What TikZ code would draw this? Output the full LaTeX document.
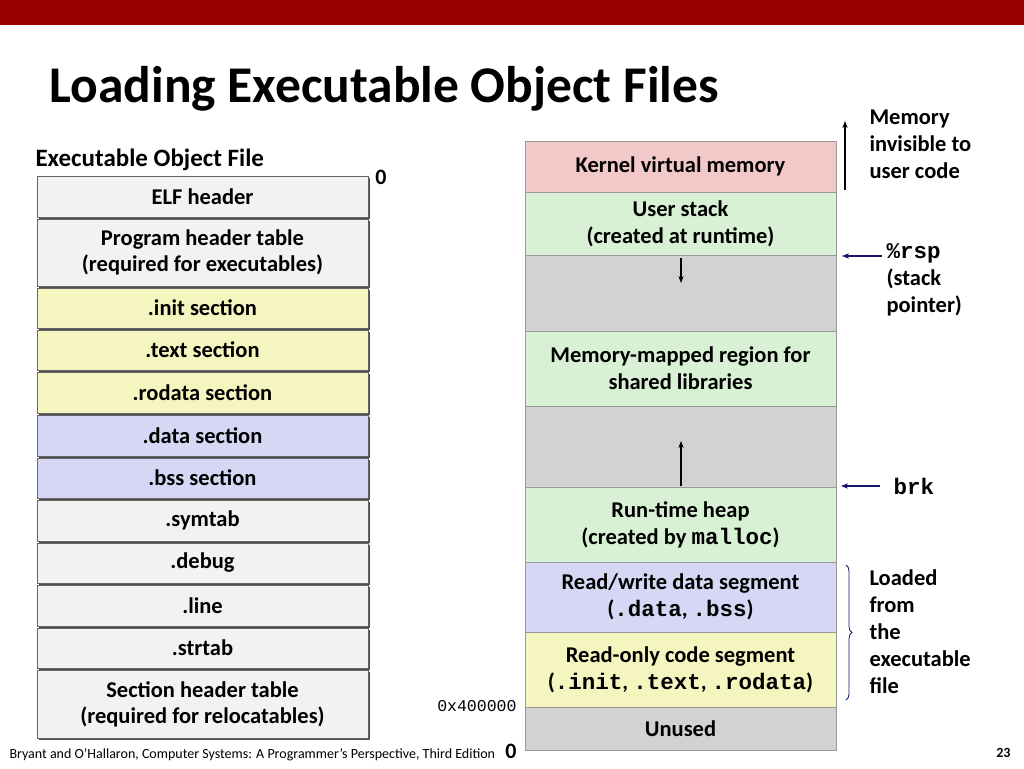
\documentclass[tikz,border=0pt]{standalone}
\usepackage{fontspec}
\setmainfont{Carlito}
\setmonofont{Liberation Mono}
\usetikzlibrary{decorations.pathreplacing,arrows.meta}
\definecolor{barred}{RGB}{153,0,0}
\definecolor{lgray}{RGB}{242,242,242}
\definecolor{lyel}{RGB}{245,245,192}
\definecolor{lblue}{RGB}{214,214,245}
\definecolor{lgreen}{RGB}{216,240,212}
\definecolor{lpink}{RGB}{242,200,200}
\definecolor{mgray}{RGB}{210,210,210}
\definecolor{navy}{RGB}{20,20,110}
\tikzset{
 lbox/.style={draw=black!60,line width=0.8pt,align=center,font=\fontsize{22.5}{26}\selectfont\bfseries},
 rbox/.style={draw=black!40,line width=0.6pt,align=center,font=\fontsize{22.5}{27}\selectfont\bfseries},
 lab/.style={font=\fontsize{22.5}{27}\selectfont\bfseries,align=left,anchor=north west},
 ar/.style={-{Stealth[length=7pt]},line width=1.2pt}
}
\newcommand{\lrow}[5]{\fill[black!70] (39,#2+2) rectangle (370,#3+2);
 \node[lbox,fill=#4,minimum width=331pt,minimum height=#3-#2 pt] (#1) at (202.5,{(#2+#3)/2}) {#5};}
\newcommand{\rrow}[5]{\node[rbox,fill=#4,minimum width=311pt,minimum height=#3-#2 pt] (#1) at (680.5,{(#2+#3)/2}) {#5};}
\begin{document}
\begin{tikzpicture}[x=1pt,y=-1pt]
\useasboundingbox (0,0) rectangle (1024,768);
\fill[white] (0,0) rectangle (1024,768);
\fill[barred] (0,0) rectangle (1024,25);
\node[anchor=west,font=\fontsize{51.5}{56}\selectfont\bfseries] (title) at (46,89) {Loading Executable Object Files};
\node[anchor=west,font=\fontsize{25}{28}\selectfont\bfseries] (eof) at (32,160) {Executable Object File};
\lrow{a1}{176}{217}{lgray}{ELF header}
\lrow{a2}{219}{286}{lgray}{Program header table\\(required for executables)}
\lrow{a3}{288}{328}{lyel}{.init section}
\lrow{a4}{330}{370}{lyel}{.text section}
\lrow{a5}{372}{413}{lyel}{.rodata section}
\lrow{a6}{415}{456}{lblue}{.data section}
\lrow{a7}{458}{498}{lblue}{.bss section}
\lrow{a8}{500}{541}{lgray}{.symtab}
\lrow{a9}{543}{583}{lgray}{.debug}
\lrow{a10}{585}{626}{lgray}{.line}
\lrow{a11}{628}{668}{lgray}{.strtab}
\lrow{a12}{670}{738}{lgray}{Section header table\\(required for relocatables)}
\node[font=\fontsize{22}{24}\selectfont\bfseries] (z1) at (381,177) {0};
\rrow{b1}{141}{192}{lpink}{Kernel virtual memory}
\rrow{b2}{192}{255}{lgreen}{User stack\\(created at runtime)}
\rrow{b3}{255}{331}{mgray}{}
\rrow{b4}{331}{406}{lgreen}{Memory-mapped region for\\shared libraries}
\rrow{b5}{406}{487}{mgray}{}
\rrow{b6}{487}{562}{lgreen}{Run-time heap\\(created by \texttt{malloc})}
\rrow{b7}{562}{632}{lblue}{Read/write data segment\\(\texttt{.data}, \texttt{.bss})}
\rrow{b8}{632}{707}{lyel}{Read-only code segment\\(\texttt{.init}, \texttt{.text}, \texttt{.rodata})}
\rrow{b9}{707}{750}{mgray}{Unused}
\coordinate (s1) at (681,258); \coordinate (s2) at (681,283);
\draw[ar] (s1) -- (s2);
\coordinate (h1) at (681,486); \coordinate (h2) at (681,441);
\draw[ar] (h1) -- (h2);
\coordinate (k1) at (845,190); \coordinate (k2) at (845,121);
\draw[ar] (k1) -- (k2);
\node[lab] (inv) at (866,106) {Memory\\invisible to\\user code};
\node[lab] (rsp) at (883,240) {\texttt{\%rsp}\\(stack\\pointer)};
\coordinate (r1) at (882,256); \coordinate (r2) at (842,256);
\draw[ar,navy] (r1) -- (r2);
\node[anchor=west,font=\fontsize{22.5}{26}\selectfont\bfseries\ttfamily] (brk) at (890,486) {brk};
\coordinate (q1) at (880,486); \coordinate (q2) at (841,486);
\draw[ar,navy] (q1) -- (q2);
\coordinate (br1) at (846,565); \coordinate (br2) at (846,700);
\draw[line width=0.8pt,navy,decorate,decoration={brace,amplitude=6pt}] (br1) -- (br2);
\node[lab] (load) at (866,566) {Loaded\\from\\the\\executable\\file};
\node[anchor=east,font=\fontsize{16.5}{18}\selectfont\ttfamily] (addr) at (520,706) {0x400000};
\node[font=\fontsize{22}{24}\selectfont\bfseries] (z2) at (511,751) {0};
\node[anchor=west,font=\fontsize{14}{16}\selectfont] (foot) at (6,755) {Bryant and O’Hallaron, Computer Systems: A Programmer’s Perspective, Third Edition};
\node[anchor=east,font=\fontsize{14}{16}\selectfont\bfseries] (pg) at (1014,753) {23};
\end{tikzpicture}
\end{document}
